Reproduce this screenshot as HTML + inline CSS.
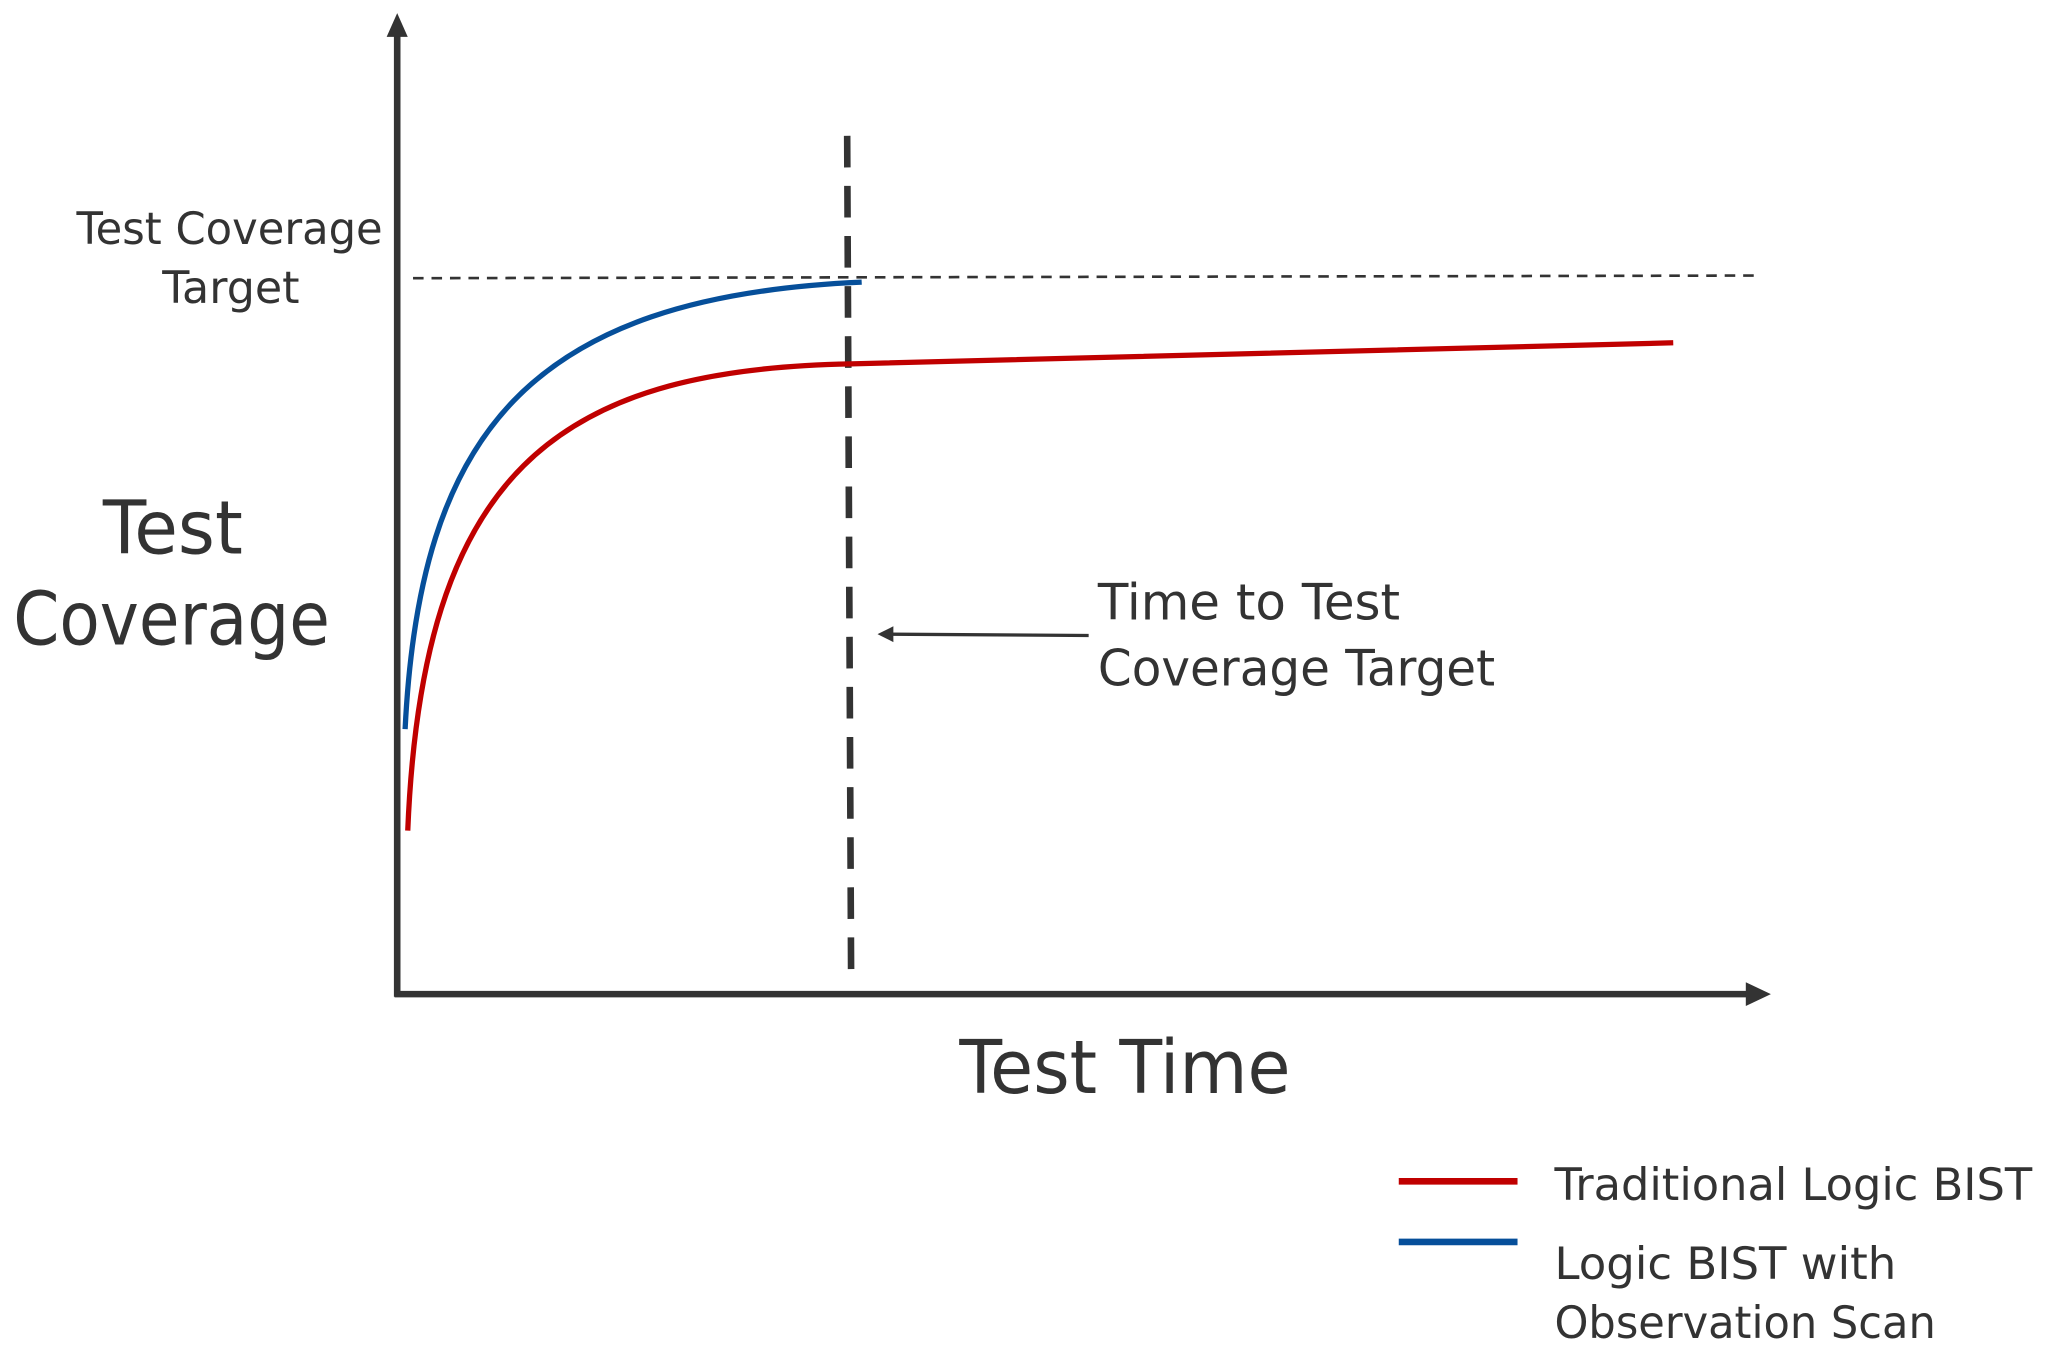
<!DOCTYPE html>
<html><head><style>html,body{margin:0;padding:0;background:#fff}svg{display:block}</style></head>
<body>
<svg width="2048" height="1358" viewBox="0 0 1552 1030" preserveAspectRatio="none" xmlns="http://www.w3.org/2000/svg">
<rect width="1552" height="1030" fill="#fff"/>
<g stroke="#333" fill="none">
<line x1="301" y1="24" x2="301" y2="756" stroke-width="5"/>
<line x1="299" y1="754" x2="1328" y2="754" stroke-width="5"/>
<line x1="313" y1="211" x2="1330" y2="209" stroke-width="2" stroke-dasharray="8,6"/>
<line x1="642" y1="103" x2="645" y2="745" stroke-width="5" stroke-dasharray="24,14"/>
<line x1="825" y1="482" x2="674" y2="481" stroke-width="2.5"/>
</g>
<polygon points="301,10 293,28 309,28" fill="#333"/>
<polygon points="1342,754 1323,745 1323,763" fill="#333"/>
<polygon points="665,481 677,475 677,487" fill="#333"/>
<path d="M307,553 C318,330 400,225 653,214" stroke="#064f9a" stroke-width="4" fill="none"/>
<path d="M309,630 C320,360 420,280 645,276 L1268,260" stroke="#c00000" stroke-width="4" fill="none"/>
<line x1="1060" y1="896" x2="1150" y2="896" stroke="#c00000" stroke-width="5"/>
<line x1="1060" y1="942" x2="1150" y2="942" stroke="#064f9a" stroke-width="5"/>
<g font-family="'DejaVu Sans','Liberation Sans',sans-serif" fill="#333">
<text x="58" y="185" font-size="34" textLength="232" lengthAdjust="spacingAndGlyphs">Test Coverage</text>
<text x="123" y="230" font-size="34" textLength="104" lengthAdjust="spacingAndGlyphs">Target</text>
<text x="78" y="420" font-size="56" textLength="106" lengthAdjust="spacingAndGlyphs">Test</text>
<text x="10" y="489" font-size="56" textLength="240" lengthAdjust="spacingAndGlyphs">Coverage</text>
<text x="832" y="470" font-size="38" textLength="229" lengthAdjust="spacingAndGlyphs">Time to Test</text>
<text x="832" y="520" font-size="38" textLength="301" lengthAdjust="spacingAndGlyphs">Coverage Target</text>
<text x="727" y="829" font-size="56" textLength="251" lengthAdjust="spacingAndGlyphs">Test Time</text>
<text x="1178" y="910" font-size="34" textLength="362" lengthAdjust="spacingAndGlyphs">Traditional Logic BIST</text>
<text x="1178" y="970" font-size="34" textLength="259" lengthAdjust="spacingAndGlyphs">Logic BIST with</text>
<text x="1178" y="1015" font-size="34" textLength="289" lengthAdjust="spacingAndGlyphs">Observation Scan</text>
</g>
</svg>
</body></html>
